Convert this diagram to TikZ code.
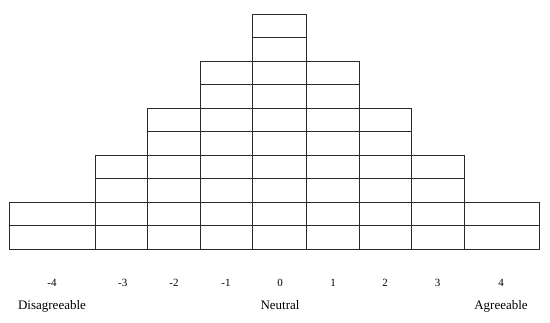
\documentclass[tikz,border=0pt]{standalone}
\usepackage{fontspec}
\setmainfont{Liberation Serif}
\usepackage{tikz}
\definecolor{GridInk}{HTML}{2A2A2A}

\begin{document}
\begin{tikzpicture}[x=1pt,y=-1pt]
\useasboundingbox (0,0) rectangle (550,323);
\foreach \xa/\xb/\n in {9/95/2,95/147.5/4,147.5/200.3/6,200.3/252.7/8,252.7/306.7/10,306.7/359.3/8,359.3/411.7/6,411.7/464/4,464/539.3/2}{\foreach \k in {1,...,\n}{\draw[GridInk,line width=.9pt] (\xa,{249.3-23.5*(\k-1)}) rectangle (\xb,{249.3-23.5*\k});}}
\foreach \x/\lab/\nm in {52/-4/a,122.7/-3/b,174/-2/c,226/-1/d,280/0/e,333/1/f,385/2/g,437.5/3/h,501/4/i}{\node[anchor=base,font=\fontsize{11}{13}\selectfont] (num\nm) at (\x,287) {\lab};}
\node[anchor=base,font=\fontsize{13}{15}\selectfont] (disagree) at (52,310) {Disagreeable};\node[anchor=base,font=\fontsize{13}{15}\selectfont] (neutral) at (280,310) {Neutral};
\node[anchor=base,font=\fontsize{13}{15}\selectfont] (agree) at (501,310) {Agreeable};
\end{tikzpicture}
\end{document}
